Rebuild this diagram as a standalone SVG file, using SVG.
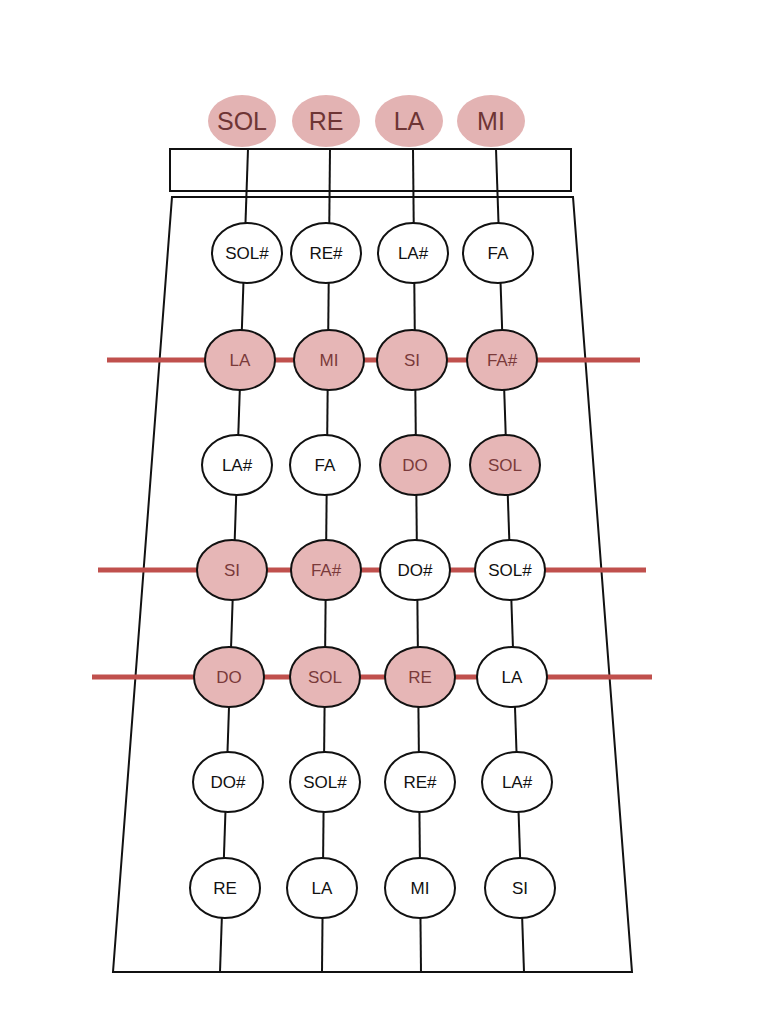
<svg xmlns="http://www.w3.org/2000/svg" width="768" height="1024" viewBox="0 0 768 1024">
<style>
.n{stroke:#111;stroke-width:2}
.w{fill:#fff}.p{fill:#e6b6b6}
.t{font-family:"Liberation Sans",Arial,sans-serif;font-size:17px;text-anchor:middle;dominant-baseline:central;fill:#111}
.tp{fill:#7a3a3a}
.h{fill:#e3b3b3;stroke:none}
.ht{font-family:"Liberation Sans",Arial,sans-serif;font-size:25px;text-anchor:middle;dominant-baseline:central;fill:#6e3535}
.s{stroke:#111;stroke-width:2;fill:none}
.r{stroke:#c0504d;stroke-width:5}
</style>
<rect width="768" height="1024" fill="#fff"/>
<g id="board">
<polygon class="s" points="172,197 573,197 632,972 113,972"/>
<rect class="s" x="170" y="149" width="401" height="42"/>
</g>
<g id="connectors">
<line class="s" x1="248" y1="149" x2="220" y2="972"/>
<line class="s" x1="330" y1="149" x2="322" y2="972"/>
<line class="s" x1="413" y1="149" x2="421" y2="972"/>
<line class="s" x1="496" y1="149" x2="524" y2="972"/>
<line class="r" x1="107" y1="360" x2="640" y2="360"/>
<line class="r" x1="98" y1="570" x2="646" y2="570"/>
<line class="r" x1="92" y1="677" x2="652" y2="677"/>
</g>
<g id="open">
<g id="o1"><ellipse class="h" cx="242" cy="121" rx="34" ry="26"/><text class="ht" x="242" y="121">SOL</text></g>
<g id="o2"><ellipse class="h" cx="326" cy="121" rx="34" ry="26"/><text class="ht" x="326" y="121">RE</text></g>
<g id="o3"><ellipse class="h" cx="409" cy="121" rx="34" ry="26"/><text class="ht" x="409" y="121">LA</text></g>
<g id="o4"><ellipse class="h" cx="491" cy="121" rx="34" ry="26"/><text class="ht" x="491" y="121">MI</text></g>
</g>
<g id="r1">
<g id="n11"><ellipse class="n w" cx="247" cy="253" rx="35" ry="30"/><text class="t" x="247" y="253">SOL#</text></g>
<g id="n12"><ellipse class="n w" cx="326" cy="253" rx="35" ry="30"/><text class="t" x="326" y="253">RE#</text></g>
<g id="n13"><ellipse class="n w" cx="413" cy="253" rx="35" ry="30"/><text class="t" x="413" y="253">LA#</text></g>
<g id="n14"><ellipse class="n w" cx="498" cy="253" rx="35" ry="30"/><text class="t" x="498" y="253">FA</text></g>
</g>
<g id="r2">
<g id="n21"><ellipse class="n p" cx="240" cy="360" rx="35" ry="30"/><text class="t tp" x="240" y="360">LA</text></g>
<g id="n22"><ellipse class="n p" cx="329" cy="360" rx="35" ry="30"/><text class="t tp" x="329" y="360">MI</text></g>
<g id="n23"><ellipse class="n p" cx="412" cy="360" rx="35" ry="30"/><text class="t tp" x="412" y="360">SI</text></g>
<g id="n24"><ellipse class="n p" cx="502" cy="360" rx="35" ry="30"/><text class="t tp" x="502" y="360">FA#</text></g>
</g>
<g id="r3">
<g id="n31"><ellipse class="n w" cx="237" cy="465" rx="35" ry="30"/><text class="t" x="237" y="465">LA#</text></g>
<g id="n32"><ellipse class="n w" cx="325" cy="465" rx="35" ry="30"/><text class="t" x="325" y="465">FA</text></g>
<g id="n33"><ellipse class="n p" cx="415" cy="465" rx="35" ry="30"/><text class="t tp" x="415" y="465">DO</text></g>
<g id="n34"><ellipse class="n p" cx="505" cy="465" rx="35" ry="30"/><text class="t tp" x="505" y="465">SOL</text></g>
</g>
<g id="r4">
<g id="n41"><ellipse class="n p" cx="232" cy="570" rx="35" ry="30"/><text class="t tp" x="232" y="570">SI</text></g>
<g id="n42"><ellipse class="n p" cx="326" cy="570" rx="35" ry="30"/><text class="t tp" x="326" y="570">FA#</text></g>
<g id="n43"><ellipse class="n w" cx="415" cy="570" rx="35" ry="30"/><text class="t" x="415" y="570">DO#</text></g>
<g id="n44"><ellipse class="n w" cx="510" cy="570" rx="35" ry="30"/><text class="t" x="510" y="570">SOL#</text></g>
</g>
<g id="r5">
<g id="n51"><ellipse class="n p" cx="229" cy="677" rx="35" ry="30"/><text class="t tp" x="229" y="677">DO</text></g>
<g id="n52"><ellipse class="n p" cx="325" cy="677" rx="35" ry="30"/><text class="t tp" x="325" y="677">SOL</text></g>
<g id="n53"><ellipse class="n p" cx="420" cy="677" rx="35" ry="30"/><text class="t tp" x="420" y="677">RE</text></g>
<g id="n54"><ellipse class="n w" cx="512" cy="677" rx="35" ry="30"/><text class="t" x="512" y="677">LA</text></g>
</g>
<g id="r6">
<g id="n61"><ellipse class="n w" cx="228" cy="782" rx="35" ry="30"/><text class="t" x="228" y="782">DO#</text></g>
<g id="n62"><ellipse class="n w" cx="325" cy="782" rx="35" ry="30"/><text class="t" x="325" y="782">SOL#</text></g>
<g id="n63"><ellipse class="n w" cx="420" cy="782" rx="35" ry="30"/><text class="t" x="420" y="782">RE#</text></g>
<g id="n64"><ellipse class="n w" cx="517" cy="782" rx="35" ry="30"/><text class="t" x="517" y="782">LA#</text></g>
</g>
<g id="r7">
<g id="n71"><ellipse class="n w" cx="225" cy="888" rx="35" ry="30"/><text class="t" x="225" y="888">RE</text></g>
<g id="n72"><ellipse class="n w" cx="322" cy="888" rx="35" ry="30"/><text class="t" x="322" y="888">LA</text></g>
<g id="n73"><ellipse class="n w" cx="420" cy="888" rx="35" ry="30"/><text class="t" x="420" y="888">MI</text></g>
<g id="n74"><ellipse class="n w" cx="520" cy="888" rx="35" ry="30"/><text class="t" x="520" y="888">SI</text></g>
</g>
</svg>
